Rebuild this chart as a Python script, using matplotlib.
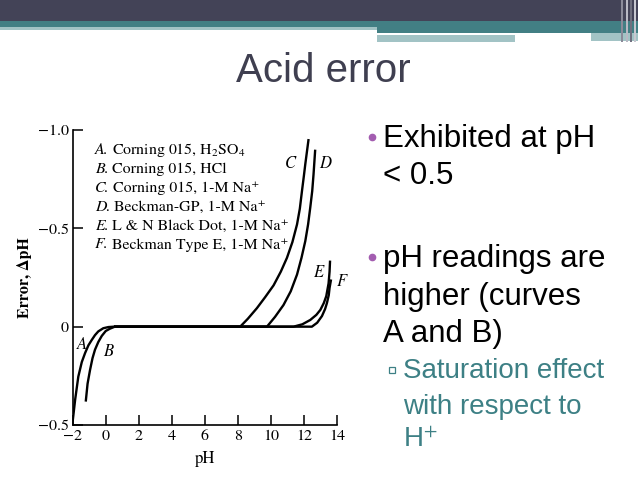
import matplotlib
matplotlib.use("Agg")
import matplotlib.pyplot as plt
from matplotlib.patches import Rectangle
from matplotlib.lines import Line2D
from matplotlib.text import Annotation

plt.rcParams['mathtext.fontset'] = 'stix'

W, H = 638, 478

# curve data (pH, error in pH units; negative values are drawn upwards)
a_ph = [-2.0, -1.85, -1.66, -1.45, -1.25, -1.05, -0.85, -0.65, -0.45, -0.15, 0.16, 0.5]
a_err = [0.48, 0.37, 0.254, 0.18, 0.134, 0.095, 0.068, 0.043, 0.024, 0.008, 0.002, 0.0]
b_ph = [-1.21, -1.1, -0.95, -0.8, -0.65, -0.45, -0.24, 0.0, 0.26, 0.55]
b_err = [0.381, 0.29, 0.22, 0.16, 0.117, 0.078, 0.047, 0.022, 0.01, 0.0]
c_ph = [0.5, 8.14, 8.6, 9.15, 9.65, 10.16, 10.6, 10.97, 11.3, 11.58, 11.75, 11.88, 12.0, 12.08, 12.28]
c_err = [0.0, 0.0, -0.04, -0.094, -0.15, -0.21, -0.28, -0.35, -0.43, -0.52, -0.6, -0.69, -0.77, -0.826, -0.954]
d_ph = [0.5, 9.76, 10.25, 10.76, 11.2, 11.58, 11.85, 12.08, 12.25, 12.38, 12.5, 12.58, 12.68]
d_err = [0.0, 0.0, -0.05, -0.11, -0.18, -0.265, -0.35, -0.435, -0.52, -0.605, -0.69, -0.775, -0.9]
e_ph = [0.5, 11.37, 11.9, 12.38, 12.75, 12.99, 13.2, 13.35, 13.49, 13.55, 13.58]
e_err = [0.0, 0.0, -0.012, -0.034, -0.06, -0.085, -0.12, -0.155, -0.22, -0.28, -0.336]
f_ph = [0.5, 12.48, 12.8, 13.09, 13.28, 13.39, 13.5, 13.55, 13.64]
f_err = [0.0, 0.0, -0.02, -0.054, -0.09, -0.12, -0.16, -0.197, -0.24]

x_ticks = [-2, 0, 2, 4, 6, 8, 10, 12, 14]
y_ticks = [-1.0, -0.5, 0.0, 0.5]
y_labels = ['\u22121.0', '\u22120.5', '0', '\u22120.5']

legend_keys = ['A', 'B', 'C', 'D', 'E', 'F']
legend_texts = [
    'Corning 015, H$_2$SO$_4$',
    'Corning 015, HCl',
    'Corning 015, 1-M Na\u207a',
    'Beckman-GP, 1-M Na\u207a',
    'L & N Black Dot, 1-M Na\u207a',
    'Beckman Type E, 1-M Na\u207a',
]

fig = plt.figure(figsize=(W / 100, H / 100), dpi=100)
fig.patch.set_facecolor('white')


def band(x0, y0, x1, y1, color):
    # rectangle given in pixel coords, origin top-left
    fig.add_artist(Rectangle((x0 / W, 1 - y1 / H), (x1 - x0) / W, (y1 - y0) / H,
                             transform=fig.transFigure, facecolor=color,
                             edgecolor='none', zorder=0))


# header decoration
dark = '#434357'
teal = '#427f84'
light = '#a2c3c5'
band(0, 0, W, 21, dark)
band(0, 21, W, 27, teal)
band(0, 27, 377, 30, light)
band(377, 27, W, 33, teal)
band(377, 33, 591, 35, 'white')
band(591, 33, W, 41, light)
band(377, 35, 515, 42, light)
for xs, col in [(621, '#8a8a99'), (626, '#b9b9c4'), (630, '#70707f'), (634, '#c8c8d0')]:
    band(xs, 0, xs + 2, 42, col)

# title
fig.text(323 / W, 1 - 82 / H, 'Acid error', ha='center', va='baseline',
         fontsize=29, color='#3f3f50', family='Liberation Sans')

# bullets
main_col = 'black'
sub_col = '#3d8085'
main_lines = [(147, 'Exhibited at pH'), (184, '< 0.5'),
              (267, 'pH readings are'), (305, 'higher (curves'), (342, 'A and B)')]
for yb, t in main_lines:
    fig.text(383 / W, 1 - yb / H, t, ha='left', va='baseline', fontsize=22.5,
             color=main_col, family='Liberation Sans')
sub_lines = [(378, 'Saturation effect'), (414, 'with respect to'), (447, 'H$^{+}$')]
for yb, t in sub_lines:
    fig.text(403 / W, 1 - yb / H, t, ha='left', va='baseline', fontsize=20,
             color=sub_col, family='Liberation Sans')
for yc in [137, 257]:
    fig.add_artist(Line2D([372 / W], [1 - yc / H], marker='o', ms=4.5, color='#a35db0',
                          transform=fig.transFigure))
fig.add_artist(Line2D([392 / W], [1 - 370 / H], marker='s', ms=4, mfc='white',
                      mec=sub_col, mew=0.9, transform=fig.transFigure))

# chart
ax = fig.add_axes([72.7 / W, 1 - 425 / H, (337 - 72.7) / W, (425 - 130) / H])
lw = 1.7
for xs, ys in [(a_ph, a_err), (b_ph, b_err), (c_ph, c_err),
               (d_ph, d_err), (e_ph, e_err), (f_ph, f_err)]:
    ax.plot(xs, ys, color='black', lw=lw, solid_capstyle='butt')

ax.set_xlim(-2, 14)
ax.set_ylim(0.5, -1.0)
ax.spines['top'].set_visible(False)
ax.spines['right'].set_visible(False)
ax.spines['left'].set_linewidth(1.2)
ax.spines['bottom'].set_linewidth(1.2)
ax.set_xticks(x_ticks)
ax.set_xticklabels([('\u2212' + str(-v)) if v < 0 else str(v) for v in x_ticks])
ax.set_yticks(y_ticks)
ax.set_yticklabels(y_labels)
ax.tick_params(direction='in', length=7, width=1.1, labelsize=11.5, pad=3)
for lab in ax.get_xticklabels() + ax.get_yticklabels():
    lab.set_family('STIXGeneral')

ax.set_xlabel('pH', family='STIXGeneral', fontsize=12, labelpad=6)
ax.set_ylabel('Error, \u0394pH', family='STIXGeneral', fontsize=11.5,
              fontweight='bold', labelpad=4)

# legend block, one line per curve: italic key then description
serif = ['STIXGeneral', 'DejaVu Serif']
fs = 11.4
for i, (k, t) in enumerate(zip(legend_keys, legend_texts)):
    yy = 1 - (154 + 18.9 * i) / H
    key = fig.text(95 / W, yy, k + '.', ha='left', va='baseline', fontsize=fs,
                   family=serif, style='italic')
    fig.add_artist(Annotation(
        t, xy=(1, yy), xycoords=(key, 'figure fraction'), xytext=(2.5, 0),
        textcoords='offset points', ha='left', va='baseline', fontsize=fs,
        family=serif))

for lbl, x, y in [('C', 11.17, -0.827), ('D', 13.29, -0.827), ('E', 12.87, -0.276),
                  ('F', 14.32, -0.23), ('A', -1.45, 0.092), ('B', 0.14, 0.128)]:
    ax.text(x, y, lbl, ha='center', va='center', fontsize=12,
            family='STIXGeneral', style='italic', clip_on=False)

fig.savefig('out.png', dpi=100)
